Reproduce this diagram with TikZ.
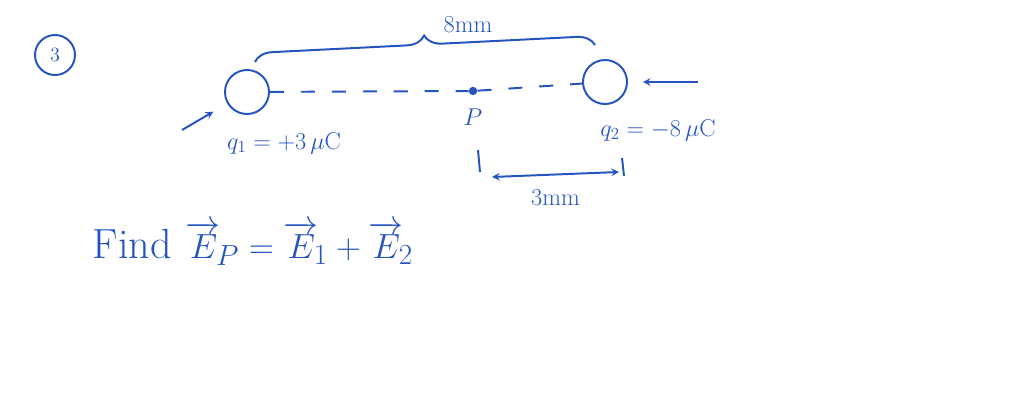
\documentclass[tikz,border=0pt]{standalone}
\usepackage{amsmath}
\usepackage{tikz}
\usetikzlibrary{arrows, calc, positioning, decorations.pathreplacing}
\definecolor{ink}{RGB}{38,84,190}
\tikzstyle{charge} = [circle, draw=ink, line width=1.4pt, minimum size=1.1cm, inner sep=0pt]
\tikzstyle{handtext} = [text=ink, font=\LARGE]
\tikzstyle{bigtext} = [text=ink, font=\fontsize{30}{36}\selectfont]
\tikzstyle{arrow} = [draw=ink, line width=1.4pt, ->, >=stealth]
\tikzstyle{dimarrow} = [draw=ink, line width=1.4pt, <->, >=stealth]
\tikzstyle{dashline} = [draw=ink, line width=1.4pt, dash pattern=on 10pt off 12pt]
\tikzstyle{tick} = [draw=ink, line width=1.4pt]
\tikzstyle{span} = [draw=ink, line width=1.4pt, decorate, decoration={brace, amplitude=0.45cm}]
\begin{document}
\begin{tikzpicture}[x=0.025cm, y=-0.025cm, node distance = 10mm]
	\useasboundingbox (0,0) rectangle (1024,408);
	\node (Number) [circle, draw=ink, line width=1.4pt, minimum size=1cm, text=ink, font=\Large] at (55,55) {3};
	\node (ChargeOne) [charge] at (247,92) {};
	\node (ChargeTwo) [charge] at (605,82) {};
	\node (PointP) [circle, fill=ink, inner sep=0pt, minimum size=6pt] at (473,91) {};
	\node (LabelP) [handtext, below = 0.2cm of PointP] {$P$};
	\draw [dashline] (ChargeOne) -- (PointP) -- (ChargeTwo);
	\coordinate (BraceLeft) at (255,62);
	\coordinate (BraceRight) at (595,45);
	\draw [span] (BraceLeft) -- (BraceRight);
	\node (Distance) [handtext] at (468,25) {8mm};
	\node (LabelOne) [handtext] at (284,143) {$q_1 = +3\,\mu$C};
	\node (LabelTwo) [handtext] at (658,130) {$q_2 = -8\,\mu$C};
	\coordinate (PushOne) at (182,130);
	\coordinate (PushTwo) at (698,82);
	\draw [arrow, shorten >=0.4cm] (PushOne) -- (ChargeOne);
	\draw [arrow, shorten >=0.37cm] (PushTwo) -- (ChargeTwo);
	\coordinate (TickP) at (478,150);
	\coordinate (TickTwo) at (622,158);
	\draw [tick] (TickP) -- ++(2,22);
	\draw [tick] (TickTwo) -- ++(2,18);
	\draw [dimarrow] ($(TickP)+(14,27)$) -- ($(TickTwo)+(-3,14)$) node[midway, below = 0.22cm, handtext]{3mm};
	\node (Find) [bigtext, anchor=base west] at (88,258) {Find};
	\node (Field) [bigtext, anchor=base west] at ($(Find.base east)+(4,0)$) {$\overrightarrow{E}_{\!P} = \overrightarrow{E}_{\!1} + \overrightarrow{E}_{\!2}$};
\end{tikzpicture}
\end{document}
